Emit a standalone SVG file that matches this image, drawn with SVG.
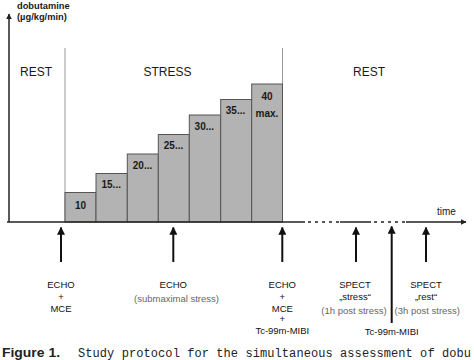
<svg xmlns="http://www.w3.org/2000/svg" width="474" height="360" viewBox="0 0 474 360">
<defs>
<style>
text{font-family:"Liberation Sans",Arial,sans-serif;fill:#1a1a1a}
.ax{font-size:9.3px;font-weight:bold}
.phase{font-size:12px;text-anchor:middle}
.lvl{font-size:10px;font-weight:bold}
.lvlc{font-size:10px;font-weight:bold;text-anchor:middle}
.lbl{font-size:9.5px;text-anchor:middle;fill:#111}
.sub{font-size:9.5px;text-anchor:middle;fill:#666}
.box{fill:#b3b3b3;stroke:#555;stroke-width:1}
.sep{stroke:#999;stroke-width:1;fill:none}
.base{stroke:#222;stroke-width:1.5;fill:none}
.dot{stroke:#222;stroke-width:1.5;fill:none;stroke-dasharray:3 4}
.arr{stroke:#111;stroke-width:2;fill:none;marker-end:url(#ah)}
.cap{font-size:12px;fill:#222}
</style>
<marker id="ah" viewBox="0 0 10 10" refX="9" refY="5" markerWidth="8" markerHeight="8" markerUnits="userSpaceOnUse" orient="auto">
<path d="M0,0 L10,5 L0,10 z" fill="#111"/>
</marker>
<marker id="ahs" viewBox="0 0 10 10" refX="9" refY="5" markerWidth="6" markerHeight="6" markerUnits="userSpaceOnUse" orient="auto">
<path d="M0,0 L10,5 L0,10 z" fill="#222"/>
</marker>
</defs>

<g id="axes">
<line x1="9" y1="222" x2="9" y2="14" stroke="#222" stroke-width="1.5" marker-end="url(#ahs)"/>
<text class="ax" x="17" y="9.3">dobutamine</text>
<text class="ax" x="17" y="20.3">(µg/kg/min)</text>
<text x="437" y="215" style="font-size:10px">time</text>
</g>

<g id="separators">
<line class="sep" x1="65" y1="48" x2="65" y2="222"/>
<line class="sep" x1="282.5" y1="48" x2="282.5" y2="222"/>
</g>

<g id="phases">
<text class="phase" x="36" y="76.3">REST</text>
<text class="phase" x="167.5" y="76.3">STRESS</text>
<text class="phase" x="369" y="76.3">REST</text>
</g>

<g id="step-10"><rect class="box" x="65" y="192.5" width="31" height="29.5"/><text class="lvlc" x="80.5" y="208.6">10</text></g>
<g id="step-15"><rect class="box" x="96" y="173.5" width="31.3" height="48.5"/><text class="lvl" x="101.5" y="187.6">15...</text></g>
<g id="step-20"><rect class="box" x="127.3" y="154" width="31" height="68"/><text class="lvl" x="132.8" y="168.6">20...</text></g>
<g id="step-25"><rect class="box" x="158.3" y="134.5" width="31" height="87.5"/><text class="lvl" x="163.8" y="149.3">25...</text></g>
<g id="step-30"><rect class="box" x="189.3" y="115" width="31.4" height="107"/><text class="lvl" x="194.6" y="129.6">30...</text></g>
<g id="step-35"><rect class="box" x="220.7" y="99.5" width="31" height="122.5"/><text class="lvl" x="225.8" y="114.3">35...</text></g>
<g id="step-40"><rect class="box" x="251.7" y="84" width="30.8" height="138"/><text class="lvlc" x="267" y="99.6">40</text><text class="lvlc" x="267" y="116.6">max.</text></g>

<g id="timeline">
<line class="base" x1="7" y1="222" x2="305" y2="222"/>
<line class="dot" x1="308" y1="222" x2="340" y2="222"/>
<line class="base" x1="340" y1="222" x2="371" y2="222"/>
<line class="dot" x1="374" y1="222" x2="405" y2="222"/>
<line class="base" x1="406" y1="222" x2="466" y2="222" marker-end="url(#ahs)"/>
</g>

<g id="connectors">
<line class="arr" x1="61" y1="262" x2="61" y2="227.5"/>
<line class="arr" x1="173.3" y1="262" x2="173.3" y2="227.5"/>
<line class="arr" x1="282.3" y1="262" x2="282.3" y2="227.5"/>
<line class="arr" x1="356" y1="262" x2="356" y2="227.5"/>
<line class="arr" x1="391.7" y1="323" x2="391.7" y2="226.5"/>
<line class="arr" x1="426" y1="262" x2="426" y2="227.5"/>
</g>

<g id="ev-echo-mce">
<text class="lbl" x="61" y="287.7">ECHO</text>
<text class="lbl" x="61" y="300">+</text>
<text class="lbl" x="61" y="312.3">MCE</text>
</g>
<g id="ev-echo-sub">
<text class="lbl" x="173.3" y="287.7">ECHO</text>
<text class="sub" x="176.5" y="302">(submaximal stress)</text>
</g>
<g id="ev-echo-max">
<text class="lbl" x="282.3" y="287.7">ECHO</text>
<text class="lbl" x="282.3" y="300">+</text>
<text class="lbl" x="282.3" y="312">MCE</text>
<text class="lbl" x="282.3" y="322">+</text>
<text class="lbl" x="282.3" y="334.2">Tc-99m-MIBI</text>
</g>
<g id="ev-spect-stress">
<text class="lbl" x="355" y="287.7">SPECT</text>
<text class="lbl" x="355" y="300">„stress“</text>
<text class="sub" x="354" y="314.2">(1h post stress)</text>
</g>
<g id="ev-mibi-rest">
<text class="lbl" x="391.7" y="335">Tc-99m-MIBI</text>
</g>
<g id="ev-spect-rest">
<text class="lbl" x="426" y="287.7">SPECT</text>
<text class="lbl" x="426" y="300">„rest“</text>
<text class="sub" x="427.3" y="314.2">(3h post stress)</text>
</g>

<g id="caption">
<text class="cap" x="2" y="357" style="font-weight:bold" textLength="58" lengthAdjust="spacingAndGlyphs">Figure 1.</text>
<text class="cap" x="78" y="357" style="font-family:'Liberation Mono',monospace" textLength="393" lengthAdjust="spacing">Study protocol for the simultaneous assessment of dobu</text>
</g>
</svg>
